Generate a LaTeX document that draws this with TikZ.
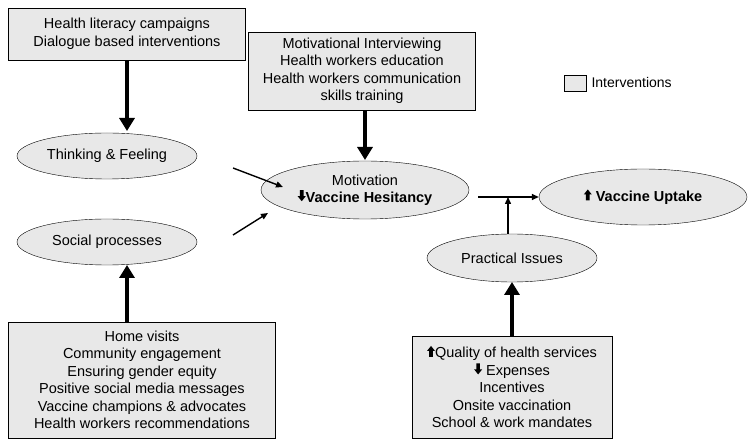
\documentclass[tikz,border=0pt]{standalone}
\usepackage{fontspec}
\setmainfont{Liberation Sans}
\usetikzlibrary{arrows.meta,shapes.geometric}
\newcommand{\blkup}{\tikz[baseline=-1pt,x=1pt,y=1pt]\fill (-1.8,0)--(1.8,0)--(1.8,6)--(4,6)--(0,11)--(-4,6)--(-1.8,6)--cycle;}
\newcommand{\blkdown}{\tikz[baseline=-1pt,x=1pt,y=1pt]\fill (-1.8,11)--(1.8,11)--(1.8,5)--(4,5)--(0,0)--(-4,5)--(-1.8,5)--cycle;}
\tikzset{
 box/.style={draw,fill=gray!18,align=center,font=\fontsize{14.5}{17.5}\selectfont,inner sep=3pt},
 ell/.style={draw,fill=gray!18,ellipse,align=center,inner sep=0pt,font=\fontsize{14.5}{17}\selectfont},
 big/.style={-{Triangle[length=13pt,width=15pt]},line width=3.2pt},
 thin/.style={-{Triangle[length=7pt,width=6pt]},line width=1.4pt}
}
\begin{document}
\begin{tikzpicture}[x=1pt,y=-1pt]
\useasboundingbox (0,0) rectangle (750,443);
\node[box,minimum width=237pt,minimum height=52pt] (b1) at (127,34) {Health literacy campaigns\\Dialogue based interventions};
\node[box,minimum width=227pt,minimum height=78pt] (b2) at (362,71) {Motivational Interviewing\\Health workers education\\Health workers communication\\skills training};
\node[draw,fill=gray!18,minimum width=22pt,minimum height=16pt,inner sep=0pt] (lg) at (575,83) {};
\node[anchor=west,font=\fontsize{14}{16}\selectfont] (lgt) at (588,83) {Interventions};
\node[ell,minimum width=180pt,minimum height=46pt] (tf) at (107,156) {Thinking \& Feeling};
\node[ell,minimum width=180pt,minimum height=46pt] (sp) at (107,242) {Social processes};
\node[ell,minimum width=208pt,minimum height=58pt] (mo) at (365,190) {Motivation\\\blkdown\textbf{Vaccine Hesitancy}};
\node[ell,minimum width=208pt,minimum height=56pt] (vu) at (643,197) {\blkup\ \textbf{Vaccine Uptake}};
\node[ell,minimum width=170pt,minimum height=48pt] (pi) at (512,258) {Practical Issues};
\node[box,minimum width=267pt,minimum height=116pt] (b3) at (142,380) {Home visits\\Community engagement\\Ensuring gender equity\\Positive social media messages\\Vaccine champions \& advocates\\Health workers recommendations};
\node[box,minimum width=200pt,minimum height=102pt] (b4) at (512,387) {\blkup Quality of health services\\\blkdown\ Expenses\\Incentives\\Onsite vaccination\\School \& work mandates};
\coordinate (t1) at (127,131);
\coordinate (t2) at (365,160);
\coordinate (t3) at (127,265);
\coordinate (t4) at (512,282);
\draw[big] (b1.south -| t1) -- (t1);
\draw[big] (b2.south -| t2) -- (t2);
\draw[big] (b3.north -| t3) -- (t3);
\draw[big] (b4.north -| t4) -- (t4);
\coordinate (m1) at (283,187);
\coordinate (m2) at (268,213);
\draw[thin] (233,168) -- (m1);
\draw[thin] (233,235) -- (m2);
\coordinate (j) at (508,197);
\coordinate (ms) at (478,197);
\draw[thin] (ms) -- (vu.west);
\draw[thin] (pi.north -| j) -- (j);
\end{tikzpicture}
\end{document}
